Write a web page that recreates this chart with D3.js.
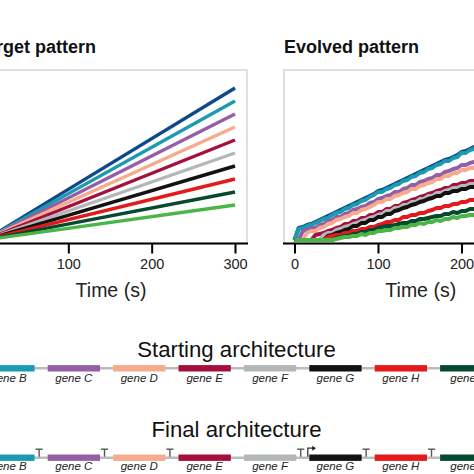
<!DOCTYPE html>
<html lang="en">
    <head>
        <meta charset="utf-8">
        <title>Target vs evolved expression pattern</title>
        <script src="https://cdn.jsdelivr.net/npm/d3@7"></script>
        <style>
            body { margin: 0; background: #fff; }
            svg { display: block; font-family: "Liberation Sans", Arial, sans-serif; }
        </style>
    </head>
    <body>
        <script type="text/javascript">

            // width and height
            var w = 474;
            var h = 474;

            // genes and their colours
            var genes = ["A", "B", "C", "D", "E", "F", "G", "H", "I", "J"];
            var colors = ["#0c4a8c", "#1b9bb0", "#955fa5", "#f7ab8c", "#a50f3b",
                          "#b4b7b8", "#121212", "#e3191c", "#05492f", "#4cb549"];

            // target pattern: expression at t = 300 s (starts at 0 at t = 0)
            var targetEnd = 300;
            var targetFinal = [152, 139, 126, 113, 100, 87, 74, 61, 48, 35];

            // evolved pattern, sampled every 5 s from 0 to 225 s
            var evolvedTimes = d3.range(0, 230, 5);
            var evolvedA = [0,12,13,15,16,18,20,22,24,26,28,30,32,34,36,38,40,42,44,46,49,50,52,54,56,58,60,62,64,66,68,70,72,74,76,78,80,81,83,85,88,89,91,93,94,95];
            var evolvedB = [0,11,12,14,15,17,19,21,22,25,27,28,31,32,35,36,39,40,43,45,48,48,51,52,55,56,59,60,63,64,67,68,71,72,75,76,79,79,82,83,87,87,90,91,93,93];
            var evolvedC = [0,0,9,10,12,12,15,16,19,20,23,23,26,27,30,31,33,34,37,38,41,42,44,45,48,48,51,52,55,55,58,59,61,62,65,65,68,69,71,72,75,75,77,78,80,80];
            var evolvedD = [0,0,0,7,9,9,12,13,16,17,20,21,23,24,27,27,30,31,33,35,38,38,41,41,44,45,47,48,51,51,54,55,57,58,61,61,64,64,67,67,70,70,72,72,75,75];
            var evolvedE = [0,0,0,0,0,5,6,7,9,10,12,13,16,16,19,19,22,22,25,25,28,28,31,31,34,34,37,38,40,41,43,44,46,47,49,50,52,52,55,55,57,57,59,59,61,61];
            var evolvedF = [0,0,0,0,0,0,0,5,7,7,10,11,13,14,16,17,19,20,22,23,25,26,29,29,32,32,35,35,38,38,41,41,44,44,47,47,49,50,52,52,54,54,56,56,58,58];
            var evolvedG = [0,0,0,0,0,0,0,0,4,5,7,8,10,11,14,14,17,17,20,20,23,23,26,26,29,30,32,33,35,36,38,39,41,42,44,44,47,47,49,49,51,51,53,53,55,55];
            var evolvedH = [0,0,0,0,0,0,0,0,3,4,5,5,7,7,9,9,11,11,13,13,15,16,18,18,20,20,23,23,25,25,27,27,29,30,32,32,34,34,36,36,38,38,40,40,42,42];
            var evolvedI = [0,0,0,0,0,0,0,0,0,0,2,3,4,4,6,6,8,8,10,10,12,13,14,14,15,16,17,17,19,19,21,21,22,23,24,24,26,26,28,27,29,29,31,31,32,32];
            var evolvedJ = [0,0,0,0,0,0,0,0,0,0,1,2,3,3,4,4,6,5,7,7,9,9,10,10,12,12,13,13,15,15,17,16,18,18,20,19,21,21,23,22,24,24,25,25,27,26];
            var evolved = [evolvedA, evolvedB, evolvedC, evolvedD, evolvedE,
                           evolvedF, evolvedG, evolvedH, evolvedI, evolvedJ];

            // x axis ticks
            var timeTicks = [0, 100, 200, 300];

            // architecture: terminators after these genes, promoters before these
            var terminatorsAfter = ["A", "B", "C", "D", "F", "G", "H", "I"];
            var promotersBefore = ["G"];

            //Create SVG element
            var svg = d3.select("body")
                .append("svg")
                .attr("width", w)
                .attr("height", h);

            // panel geometry
            var plotTop = 70, base = 240, axisY = 243.5;
            var panels = [
                { title: "Target pattern", box: [-22, 247], x: d3.scaleLinear().domain([0, 300]).range([-15, 235]) },
                { title: "Evolved pattern", box: [284, 560], x: d3.scaleLinear().domain([0, 300]).range([294.5, 545]) }
            ];
            var y = d3.scaleLinear().domain([0, 170]).range([base, plotTop]);

            panels.forEach(function (p, pi) {
                var g = svg.append("g");

                // frame
                g.append("rect")
                    .attr("x", p.box[0])
                    .attr("y", plotTop)
                    .attr("width", p.box[1] - p.box[0])
                    .attr("height", axisY - plotTop)
                    .attr("fill", "none")
                    .attr("stroke", "#d8d8d8")
                    .attr("stroke-width", 1.6);

                // title
                g.append("text")
                    .attr("x", pi === 0 ? 96 : p.box[0])
                    .attr("y", 52.5)
                    .attr("text-anchor", pi === 0 ? "end" : "start")
                    .attr("font-weight", "bold")
                    .attr("font-size", "18px")
                    .attr("fill", "#111")
                    .text(p.title);

                // lines
                var line = d3.line()
                    .x(function(d) { return p.x(d[0]); })
                    .y(function(d) { return y(d[1]); });

                var series;
                if (pi === 0) {
                    series = targetFinal.map(function (v) { return [[0, 0], [targetEnd, v]]; });
                } else {
                    series = evolved.map(function (s) {
                        return s.map(function (v, i) { return [evolvedTimes[i], v]; });
                    });
                }

                g.selectAll("path.series")
                    .data(series)
                    .enter()
                    .append("path")
                    .attr("class", "series")
                    .attr("fill", "none")
                    .attr("stroke", function(d, i) { return colors[i]; })
                    .attr("stroke-width", pi === 0 ? 3.4 : 4)
                    .attr("stroke-linejoin", "round")
                    .attr("d", line);

                // axis
                var axis = d3.axisBottom(p.x)
                    .tickValues(timeTicks)
                    .tickSize(10)
                    .tickSizeOuter(0)
                    .tickPadding(5);

                var ax = g.append("g")
                    .attr("transform", "translate(0," + axisY + ")")
                    .call(axis);
                ax.select(".domain").remove();
                ax.selectAll("line").attr("stroke", "#000").attr("stroke-width", 2);
                ax.selectAll("text")
                    .attr("font-size", "14.5px")
                    .attr("font-family", "Liberation Sans, Arial, sans-serif")
                    .attr("fill", "#222");

                g.append("line")
                    .attr("x1", p.box[0] - 1)
                    .attr("x2", p.box[1] + 1)
                    .attr("y1", axisY)
                    .attr("y2", axisY)
                    .attr("stroke", "#000")
                    .attr("stroke-width", 2.2);

                g.append("text")
                    .attr("x", p.x(150) + 1)
                    .attr("y", 296.5)
                    .attr("text-anchor", "middle")
                    .attr("font-size", "19.5px")
                    .attr("fill", "#222")
                    .text("Time (s)");
            });

            // gene architecture rows
            var gx = d3.scaleBand()
                .domain(genes)
                .range([-83.1, -83.1 + 10 * 65.4 - 13.08])
                .paddingInner(0.2)
                .paddingOuter(0);

            var rows = [
                { title: "Starting architecture", titleY: 356.7, barY: 368.3, labelY: 381.5, parts: false },
                { title: "Final architecture", titleY: 436.7, barY: 457.7, labelY: 470, parts: true }
            ];

            rows.forEach(function (r) {
                var g = svg.append("g");

                g.append("text")
                    .attr("x", 236.5)
                    .attr("y", r.titleY)
                    .attr("text-anchor", "middle")
                    .attr("font-size", "22.2px")
                    .attr("fill", "#111")
                    .text(r.title);

                // backbone
                g.append("line")
                    .attr("x1", 0)
                    .attr("x2", w)
                    .attr("y1", r.barY)
                    .attr("y2", r.barY)
                    .attr("stroke", "#bcbcbc")
                    .attr("stroke-width", 2.5);

                g.selectAll("rect.gene")
                    .data(genes)
                    .enter()
                    .append("rect")
                    .attr("class", "gene")
                    .attr("x", function(d) { return gx(d); })
                    .attr("y", r.barY - 3.2)
                    .attr("width", gx.bandwidth())
                    .attr("height", 6.4)
                    .attr("fill", function(d, i) { return colors[i]; });

                g.selectAll("text.gene")
                    .data(genes)
                    .enter()
                    .append("text")
                    .attr("class", "gene")
                    .attr("x", function(d) { return gx(d) + gx.bandwidth() / 2; })
                    .attr("y", r.labelY)
                    .attr("text-anchor", "middle")
                    .attr("font-style", "italic")
                    .attr("font-size", "11.5px")
                    .attr("fill", "#222")
                    .text(function(d) { return "gene " + d; });

                if (!r.parts) return;

                // terminators
                var term = g.selectAll("g.term")
                    .data(terminatorsAfter)
                    .enter()
                    .append("g")
                    .attr("class", "term")
                    .attr("transform", function(d) {
                        return "translate(" + (gx(d) + gx.bandwidth() + 4.5) + "," + r.barY + ")";
                    });
                term.append("line")
                    .attr("x1", 0).attr("x2", 0)
                    .attr("y1", -1).attr("y2", -8.5)
                    .attr("stroke", "#555").attr("stroke-width", 1.4);
                term.append("line")
                    .attr("x1", -3.6).attr("x2", 3.6)
                    .attr("y1", -8.5).attr("y2", -8.5)
                    .attr("stroke", "#555").attr("stroke-width", 1.4);

                // promoters
                var prom = g.selectAll("g.prom")
                    .data(promotersBefore)
                    .enter()
                    .append("g")
                    .attr("class", "prom")
                    .attr("transform", function(d) {
                        return "translate(" + (gx(d) - 1.5) + "," + r.barY + ")";
                    });
                prom.append("path")
                    .attr("d", "M0,-1V-9.5H5")
                    .attr("fill", "none")
                    .attr("stroke", "#333").attr("stroke-width", 1.3);
                prom.append("path")
                    .attr("d", "M4.5,-12L8,-9.5L4.5,-7Z")
                    .attr("fill", "#111");
            });

        </script>
    </body>
</html>
